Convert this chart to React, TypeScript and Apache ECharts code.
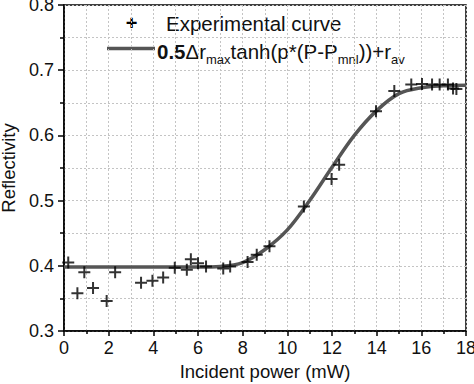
import React, { useEffect, useRef } from "react";
import * as echarts from "echarts";

const expX = [0.19, 0.6, 0.91, 1.3, 1.91, 2.29, 3.45, 3.96, 4.44, 4.96, 5.5, 5.68, 6.0, 6.36, 7.13, 7.44, 8.22, 8.63, 9.2, 10.74, 11.98, 12.32, 13.97, 14.79, 15.55, 16.03, 16.48, 16.82, 17.19, 17.42, 17.57];
const expY = [0.405, 0.358, 0.39, 0.366, 0.346, 0.39, 0.374, 0.377, 0.382, 0.397, 0.394, 0.41, 0.404, 0.399, 0.396, 0.399, 0.406, 0.417, 0.43, 0.491, 0.533, 0.555, 0.637, 0.668, 0.678, 0.679, 0.678, 0.678, 0.678, 0.672, 0.671];

const fitX = [0, 2, 4, 6, 7, 8, 9, 10, 11, 12, 13, 14, 15, 16, 17, 18];
const fitY = [0.398, 0.398, 0.398, 0.398, 0.399, 0.405, 0.425, 0.455, 0.5, 0.551, 0.6, 0.638, 0.664, 0.673, 0.676, 0.677];

const FONT = "Liberation Sans, Arial, sans-serif";
const PLUS = "path://M5,0h2v5h5v2h-5v5h-2v-5h-5v-2h5z";

export default function App() {
  const ref = useRef<HTMLDivElement>(null);
  useEffect(() => {
    document.body.style.margin = "0";
    const chart = echarts.init(ref.current!, undefined, { renderer: "svg" });
    const gridLine = { show: true, lineStyle: { color: "#c4c4c4", type: [2, 2] as any, width: 1 } };
    chart.setOption({
      animation: false,
      backgroundColor: "#fff",
      textStyle: { fontFamily: FONT },
      grid: { left: 64, right: 8, top: 5, bottom: 53, show: true, borderColor: "#000", borderWidth: 1.5, backgroundColor: "transparent", containLabel: false, outerBoundsMode: "none" },
      xAxis: {
        type: "value",
        min: 0,
        max: 18,
        interval: 2,
        name: "Incident power (mW)",
        nameLocation: "middle",
        nameGap: 31,
        nameTextStyle: { fontSize: 18.5, color: "#111", fontFamily: FONT },
        axisLine: { show: true, lineStyle: { color: "#000", width: 1.5 } },
        axisTick: { show: true, inside: false, length: 5, lineStyle: { color: "#000", width: 1.5 } },
        minorTick: { show: true, splitNumber: 2, length: 3, lineStyle: { color: "#000", width: 1.5 } },
        axisLabel: { fontSize: 18, color: "#111", margin: 8, fontFamily: FONT },
        splitLine: gridLine,
        minorSplitLine: gridLine,
      },
      yAxis: {
        type: "value",
        min: 0.3,
        max: 0.8,
        interval: 0.1,
        name: "Reflectivity",
        nameLocation: "middle",
        nameGap: 43,
        nameTextStyle: { fontSize: 18.5, color: "#111", fontFamily: FONT },
        axisLine: { show: true, lineStyle: { color: "#000", width: 1.5 } },
        axisTick: { show: true, inside: false, length: 6, lineStyle: { color: "#000", width: 1.5 } },
        minorTick: { show: true, splitNumber: 2, length: 4, lineStyle: { color: "#000", width: 1.5 } },
        axisLabel: { fontSize: 18, color: "#111", margin: 10, fontFamily: FONT, formatter: (v: number) => v.toFixed(1) },
        splitLine: gridLine,
        minorSplitLine: gridLine,
      },
      series: [
        {
          type: "line",
          name: "fit",
          data: fitX.map((x, i) => [x, fitY[i]]),
          smooth: 0.35,
          symbol: "none",
          lineStyle: { color: "#555", width: 3.5 },
          z: 2,
        },
        {
          type: "scatter",
          name: "Experimental curve",
          data: expX.map((x, i) => [x, expY[i]]),
          symbol: PLUS,
          symbolSize: 12,
          itemStyle: { color: "#000" },
          z: 3,
        },
      ],
      graphic: [
        {
          type: "text",
          x: 131.7,
          y: 23,
          style: { text: "+", fontSize: 20, fontWeight: "bold", fill: "#000", align: "center", verticalAlign: "middle", fontFamily: FONT },
        },
        {
          type: "text",
          x: 166,
          y: 23,
          style: { text: "Experimental curve", fontSize: 20.5, fill: "#111", align: "left", verticalAlign: "middle", fontFamily: FONT },
        },
        {
          type: "line",
          shape: { x1: 107, y1: 48.5, x2: 155, y2: 48.5 },
          style: { stroke: "#555", lineWidth: 3.5 },
        },
        {
          type: "text",
          x: 157,
          y: 51,
          style: {
            text: "{b|0.5}{n|Δr}{s|max}{n|tanh(p*(P-P}{s|mnl}{n|))+r}{s|av}",
            align: "left",
            verticalAlign: "middle",
            fontFamily: FONT,
            fill: "#111",
            rich: {
              b: { fontSize: 20.5, fontWeight: "bold", fill: "#111", fontFamily: FONT },
              n: { fontSize: 20.5, fill: "#111", fontFamily: FONT },
              s: { fontSize: 13, fill: "#111", fontFamily: FONT, padding: [16, 0, 0, 0] },
            },
          },
        },
      ],
    });
    return () => chart.dispose();
  }, []);
  return <div ref={ref} style={{ width: 474, height: 384 }} />;
}
